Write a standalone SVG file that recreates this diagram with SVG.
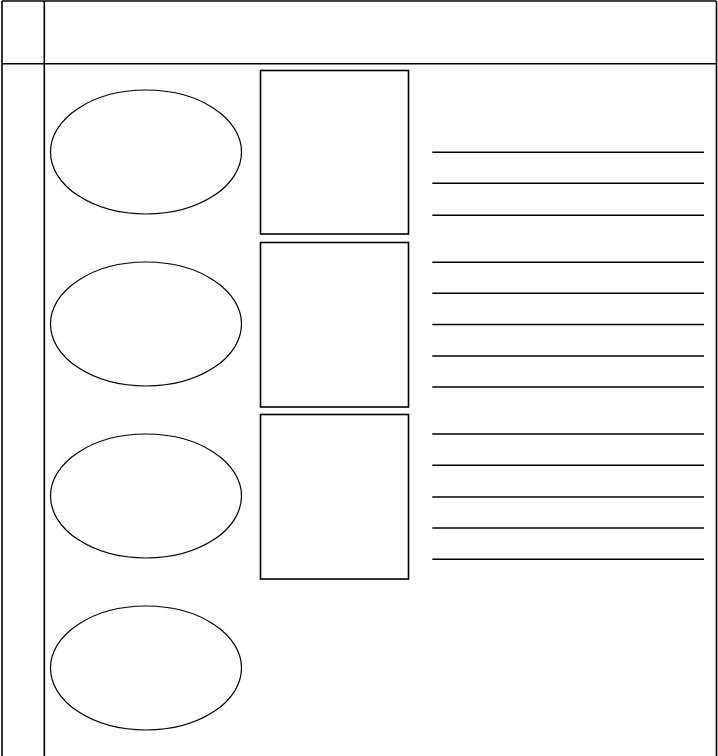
<svg xmlns="http://www.w3.org/2000/svg" width="718" height="756" viewBox="0 0 718 756">
<style>
.ln{stroke:#000;stroke-width:1.6;fill:none}
.el{stroke:#000;stroke-width:1.2;fill:none}
.bx{stroke:#000;stroke-width:1.6;fill:none}
</style>
<rect width="718" height="756" fill="#fff"/>
<g id="frame" class="ln">
<line x1="2" y1="1" x2="716.5" y2="1"/>
<line x1="2" y1="1" x2="2" y2="756"/>
<line x1="716.5" y1="1" x2="716.5" y2="756"/>
<line x1="44.3" y1="1" x2="44.3" y2="756"/>
<line x1="2" y1="63.7" x2="716.5" y2="63.7"/>
</g>
<g id="ellipse1"><ellipse class="el" cx="146" cy="152" rx="95.5" ry="62"/></g>
<g id="ellipse2"><ellipse class="el" cx="146" cy="324" rx="95.5" ry="62"/></g>
<g id="ellipse3"><ellipse class="el" cx="146" cy="496" rx="95.5" ry="62"/></g>
<g id="ellipse4"><ellipse class="el" cx="146" cy="668" rx="95.5" ry="62"/></g>
<g id="box1"><rect class="bx" x="260.5" y="70.5" width="148" height="163.5"/></g>
<g id="box2"><rect class="bx" x="260.5" y="242.5" width="148" height="164.5"/></g>
<g id="box3"><rect class="bx" x="260.5" y="414.5" width="148" height="164.5"/></g>
<g id="lines" class="ln">
<line x1="432.3" y1="152.3" x2="704" y2="152.3"/>
<line x1="432.3" y1="183.3" x2="704" y2="183.3"/>
<line x1="432.3" y1="215.3" x2="704" y2="215.3"/>
<line x1="432.3" y1="262.3" x2="704" y2="262.3"/>
<line x1="432.3" y1="293.3" x2="704" y2="293.3"/>
<line x1="432.3" y1="324.5" x2="704" y2="324.5"/>
<line x1="432.3" y1="356" x2="704" y2="356"/>
<line x1="432.3" y1="387" x2="704" y2="387"/>
<line x1="432.3" y1="434" x2="704" y2="434"/>
<line x1="432.3" y1="465.3" x2="704" y2="465.3"/>
<line x1="432.3" y1="497" x2="704" y2="497"/>
<line x1="432.3" y1="528" x2="704" y2="528"/>
<line x1="432.3" y1="559.3" x2="704" y2="559.3"/>
</g>
<g id="connectors"></g>
</svg>
